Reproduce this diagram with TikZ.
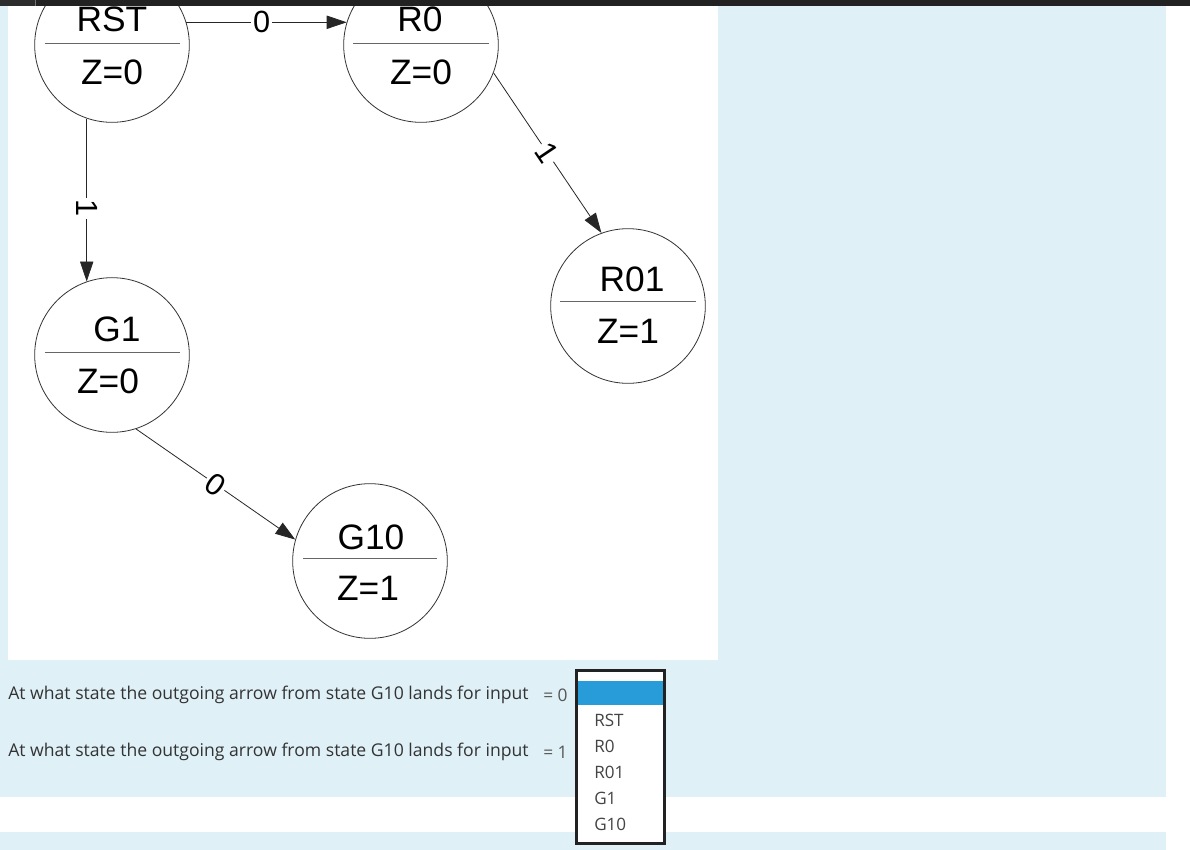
\documentclass[tikz,border=0pt]{standalone}
\usepackage{fontspec}
\setmainfont{Liberation Sans}
\newfontfamily\uifont{Open Sans}
\usetikzlibrary{arrows.meta}
\definecolor{panel}{HTML}{DFF0F7}
\definecolor{topbar}{HTML}{222222}
\definecolor{topbarl}{HTML}{2C2C2C}
\definecolor{selblue}{HTML}{279CD9}
\definecolor{qtext}{HTML}{333333}
\definecolor{qgray}{HTML}{555555}
\definecolor{opttext}{HTML}{444444}
\begin{document}
\begin{tikzpicture}[x=0.75pt,y=-0.75pt,
  state/.style={circle,draw=black!80,line width=0.6pt,minimum size=116pt,inner sep=0pt},
  stxt/.style={font=\fontsize{26.5}{26.5}\selectfont,inner sep=0pt},
  divider/.style={draw=black!60,line width=0.6pt},
  edge/.style={draw=black!85,line width=0.6pt,-{Triangle[length=15pt,width=10pt]}},
  elab/.style={font=\fontsize{23}{23}\selectfont,fill=white,inner sep=1.5pt},
  qstyle/.style={font=\uifont\fontsize{13.2}{14}\selectfont,text=qtext,anchor=west,inner sep=0pt},
  qeq/.style={font=\uifont\fontsize{13}{14}\selectfont,text=qgray,anchor=west,inner sep=0pt},
  opt/.style={font=\uifont\fontsize{12.8}{14}\selectfont,text=opttext,anchor=west,inner sep=0pt}]
\useasboundingbox (0,0) rectangle (1190,850);
\fill[white] (0,0) rectangle (1190,850);
\fill[panel] (0,6) rectangle (1166,797);
\fill[panel] (0,832) rectangle (1166,850);
\fill[white] (8,6) rectangle (718,660);

% states
\node[state] (RST) at (112,45) {};
\node[stxt] (RSTn) at (112,19) {RST};
\draw[divider] (45,43) -- (180,43);
\node[stxt] (RSTz) at (112,72) {Z=0};

\node[state] (R0) at (421,45) {};
\node[stxt] (R0n) at (420,19) {R0};
\draw[divider] (353,43) -- (489,43);
\node[stxt] (R0z) at (421,72) {Z=0};

\node[state] (R01) at (628,306) {};
\node[stxt] (R01n) at (632,279) {R01};
\draw[divider] (560,301) -- (696,301);
\node[stxt] (R01z) at (628,331) {Z=1};

\node[state] (G1) at (112,355) {};
\node[stxt] (G1n) at (117,329) {G1};
\draw[divider] (45,352) -- (180,352);
\node[stxt] (G1z) at (108,381) {Z=0};

\node[state] (G10) at (370,561) {};
\node[stxt] (G10n) at (371,537) {G10};
\draw[divider] (303,558) -- (437,558);
\node[stxt] (G10z) at (368,588) {Z=1};

% transitions
\draw[edge] (RST.17) -- node[elab,pos=0.47] (l1) {0} (R0.163);
\draw[edge] (RST.251) -- node[elab,pos=0.55,rotate=-90] (l2) {1} (G1.109);
\draw[edge] (R0.-21) -- node[elab,pos=0.5,rotate=-56] (l3) {1} (R01.110);
\draw[edge] (G1.-72) -- node[elab,pos=0.5,rotate=-35] (l4) {0} (G10.164);

% question text
\node[qstyle] (q1) at (8,695) {At what state the outgoing arrow from state G10 lands for input};
\node[qeq] (q1e) at (543,695) {= 0};
\node[qstyle] (q2) at (8,752) {At what state the outgoing arrow from state G10 lands for input};
\node[qeq] (q2e) at (543,752) {= 1};

% dropdown
\fill[topbar] (575,669) rectangle (666,845);
\fill[white] (578,672) rectangle (663,842);
\fill[selblue] (578,681) rectangle (663,705);
\node[opt] (o1) at (594,720) {RST};
\node[opt] (o2) at (594,746) {R0};
\node[opt] (o3) at (594,772) {R01};
\node[opt] (o4) at (594,798) {G1};
\node[opt] (o5) at (594,824) {G10};

% top bar
\fill[topbar] (0,0) rectangle (1190,6);
\fill[topbarl] (0,0) rectangle (35,6);
\draw[black!55,line width=0.6pt] (35,0) -- (35,6);
\end{tikzpicture}
\end{document}
